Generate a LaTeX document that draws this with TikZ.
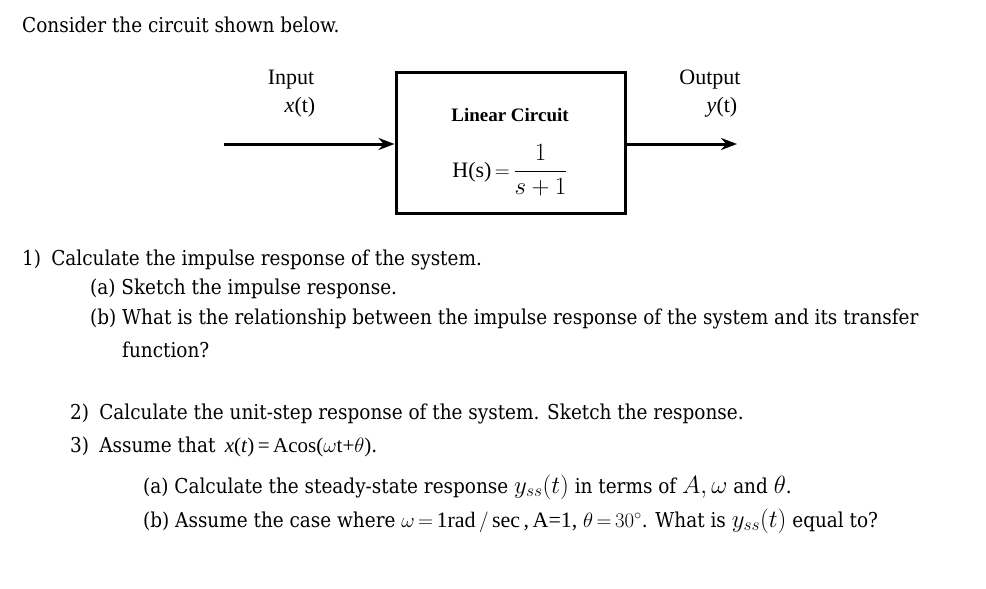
\documentclass[tikz,border=0pt]{standalone}
\usepackage{fontspec}
\setmainfont{DejaVu Serif Condensed}
\newfontfamily\tms{Liberation Serif}
\usetikzlibrary{arrows.meta}
\begin{document}
\begin{tikzpicture}[x=1pt,y=-1pt,
  txt/.style={anchor=west,inner sep=0pt,font=\fontsize{20.5}{22}\selectfont},
  lbl/.style={inner sep=0pt,font=\tms\fontsize{22}{24}\selectfont},
  arr/.style={line width=3pt,-{Stealth[length=16pt,width=12pt]}}]
\useasboundingbox[fill=white] (0,0) rectangle (986,589);
\node[txt] (t0) at (22,25) {Consider the circuit shown below.};
\node[draw,line width=3pt,minimum width=229pt,minimum height=141pt] (box) at (510.5,142.5) {};
\node[inner sep=0pt,font=\tms\bfseries\fontsize{19}{20}\selectfont] (lc) at (510,115) {Linear Circuit};
\node[lbl] (hs) at (510,170) {H(s)$\,=\,${\fontsize{24}{26}\selectfont$\displaystyle\frac{1}{s+1}$}};
\coordinate (in) at (224,144);
\coordinate (out) at (737,144);
\draw[arr] (in) -- (box.west|-in);
\draw[arr] (box.east|-out) -- (out);
\node[lbl] (ip) at (291,80) {Input};
\node[lbl] (xt) at (300,107) {\textit{x}(t)};
\node[lbl] (op) at (710,80) {Output};
\node[lbl] (yt) at (722,107) {\textit{y}(t)};
\node[txt] (l1) at (22,260) {1)\enspace Calculate the impulse response of the system.};
\node[txt] (l1a) at (90,289) {(a) Sketch the impulse response.};
\node[txt] (l1b) at (90,319) {(b) What is the relationship between the impulse response of the system and its transfer};
\node[txt] (l1c) at (122,350) {function?};
\node[txt] (l2) at (70,414) {2)\enspace Calculate the unit-step response of the system. Sketch the response.};
\node[txt] (l3) at (70,447) {3)\enspace Assume that {\tms\fontsize{21}{21}\selectfont\,\textit{x}(\textit{t})\,=\,Acos($\omega$t+$\theta$)}.};
\node[txt] (l3a) at (143,487) {(a) Calculate the steady-state response {\fontsize{23}{23}\selectfont$y_{ss}(t)$} in terms of {\fontsize{23}{23}\selectfont$A,\omega$} and {\fontsize{23}{23}\selectfont$\theta$}.};
\node[txt] (l3b) at (143,521) {(b) Assume the case where {\tms\fontsize{22}{22}\selectfont $\omega\,{=}\,$1rad$\,/\,$sec$\,$,$\,$A=1,$\;\theta\,{=}\,30^{\circ}$}. What is {\fontsize{23}{23}\selectfont$y_{ss}(t)$} equal to?};
\end{tikzpicture}
\end{document}
